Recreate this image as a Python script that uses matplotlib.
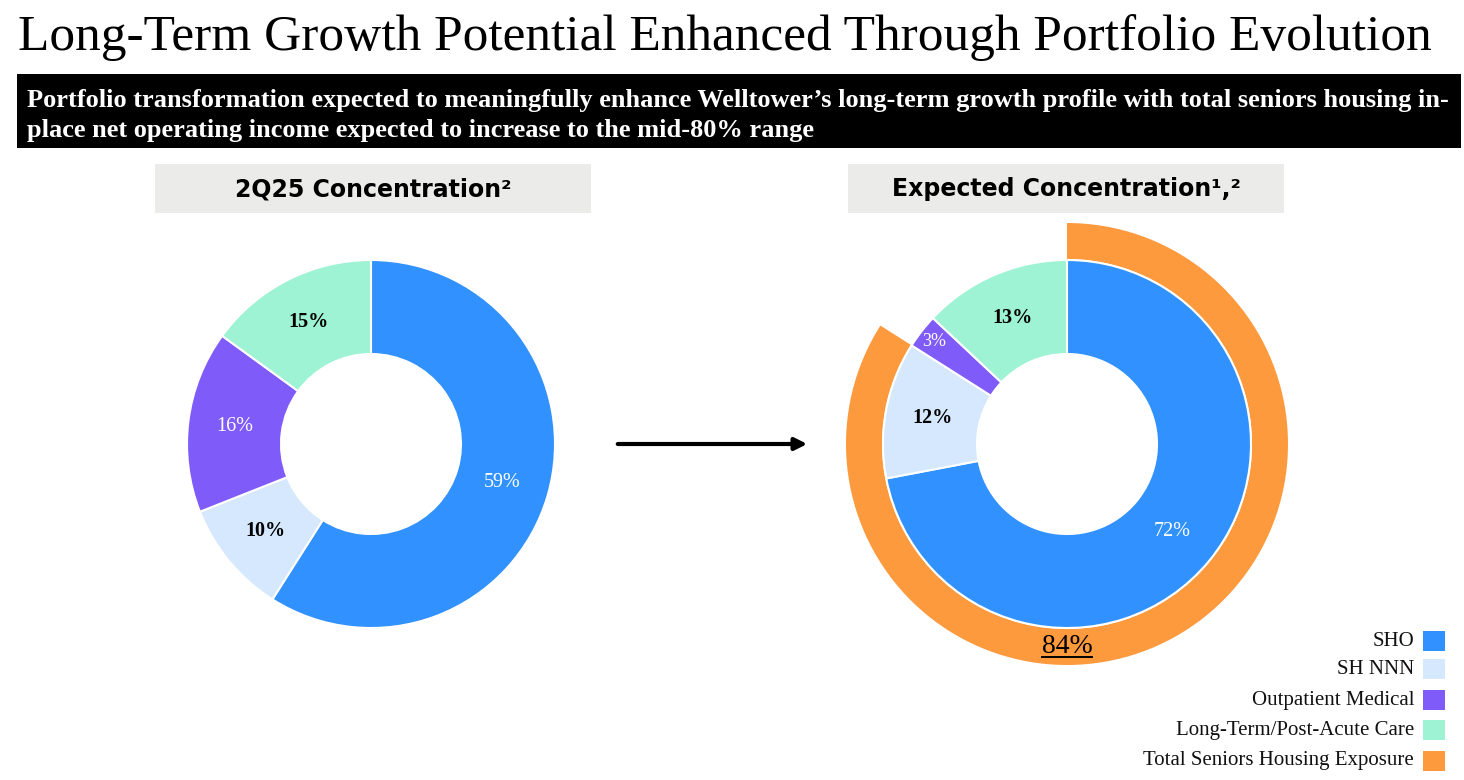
import matplotlib
matplotlib.use("Agg")
import matplotlib.pyplot as plt
import numpy as np
from matplotlib.patches import Rectangle
from matplotlib.lines import Line2D

# data
categories = ['SHO', 'SH NNN', 'Outpatient Medical', 'Long-Term/Post-Acute Care']
current_share = [59, 10, 16, 15]
expected_share = [72, 12, 3, 13]
total_seniors_label = 'Total Seniors Housing Exposure'
total_seniors_expected = 84

colors = ['#3091FF', '#D5E8FD', '#7F5BFA', '#9DF3D3']
orange = '#FE9A3E'
label_colors = ['white', 'black', 'white', 'black']

W, H = 1464, 780
fig = plt.figure(figsize=(W / 100, H / 100), dpi=100)
fig.patch.set_facecolor('white')

serif = ['Liberation Serif', 'DejaVu Serif']


def fx(px):
    return px / W


def fy(py):
    return 1 - py / H


# title and subtitle bar
fig.text(fx(18), fy(50), 'Long-Term Growth Potential Enhanced Through Portfolio Evolution',
         family=serif, fontsize=37, color='black', va='baseline')
fig.patches.append(Rectangle((fx(17), fy(148)), fx(1444), 74 / H, transform=fig.transFigure,
                             facecolor='black', edgecolor='none'))
fig.text(fx(27), fy(107), 'Portfolio transformation expected to meaningfully enhance Welltower\u2019s '
         'long-term growth profile with total seniors housing in-',
         family=serif, fontsize=19, weight='bold', color='white', va='baseline')
fig.text(fx(27), fy(137), 'place net operating income expected to increase to the mid-80% range',
         family=serif, fontsize=19, weight='bold', color='white', va='baseline')

# section headers
for x0, txt in [(155, '2Q25 Concentration\u00b2'), (848, 'Expected Concentration\u00b9,\u00b2')]:
    fig.patches.append(Rectangle((fx(x0), fy(213)), fx(436), 49 / H, transform=fig.transFigure,
                                 facecolor='#EBEBEA', edgecolor='none'))
    fig.text(fx(x0 + 218), fy(189), txt, family='DejaVu Sans', fontsize=17,
             weight='bold', ha='center', va='center', color='black')

R_OUT, R_IN = 184, 90
R_RING = 221


def donut(cx, values, outer=None):
    half = 240
    ax = fig.add_axes([fx(cx - half), fy(444 + half), fx(2 * half), 2 * half / H])
    if outer is not None:
        ax.pie([outer, 100 - outer], radius=R_RING, startangle=90, counterclock=False,
               colors=[orange, 'none'], wedgeprops=dict(width=R_RING - R_OUT - 1, linewidth=0))
    wedges, _ = ax.pie(values, radius=R_OUT, startangle=90, counterclock=False, colors=colors,
                       wedgeprops=dict(width=R_OUT - R_IN, edgecolor='white', linewidth=1.5))
    ax.set_xlim(-half, half)
    ax.set_ylim(-half, half)
    ax.set_aspect('equal')
    ax.axis('off')
    for w, v, c in zip(wedges, values, label_colors):
        ang = np.deg2rad((w.theta1 + w.theta2) / 2)
        r = (R_OUT + R_IN) / 2
        fs = 14.5
        if v < 5:
            r = 168
            fs = 13
        ax.text(r * np.cos(ang), r * np.sin(ang), f'{v}%', family=serif, fontsize=fs,
                weight='bold' if c == 'black' else 'normal', color=c, ha='center', va='center')
    return ax


ax1 = donut(371, current_share)
ax2 = donut(1067, expected_share, outer=total_seniors_expected)

rmid = (R_RING + R_OUT) / 2
t84 = ax2.text(0, -rmid, f'{total_seniors_expected}%', family=serif, fontsize=20,
               color='black', ha='center', va='center')

# arrow
fig.patches.append(matplotlib.patches.FancyArrowPatch((fx(615), fy(444)), (fx(810), fy(444)),
                   transform=fig.transFigure, arrowstyle='-|>', mutation_scale=18,
                   linewidth=3, color='black'))

# legend
legend_names = categories + [total_seniors_label]
legend_colors = colors + [orange]
legend_y = [641, 669, 700, 730, 761]
for name, col, y in zip(legend_names, legend_colors, legend_y):
    fig.text(fx(1414), fy(y), name, family=serif, fontsize=15, ha='right', va='center', color='#111111')
    fig.patches.append(Rectangle((fx(1423), fy(y + 10)), fx(22), 20 / H, transform=fig.transFigure,
                                 facecolor=col, edgecolor='none'))

# underline for the 84%
fig.canvas.draw()
bb = t84.get_window_extent().transformed(fig.transFigure.inverted())
fig.add_artist(Line2D([bb.x0, bb.x1], [bb.y0 + 0.002, bb.y0 + 0.002], transform=fig.transFigure,
                      color='black', linewidth=1.4))

fig.savefig('out.png', dpi=100)
